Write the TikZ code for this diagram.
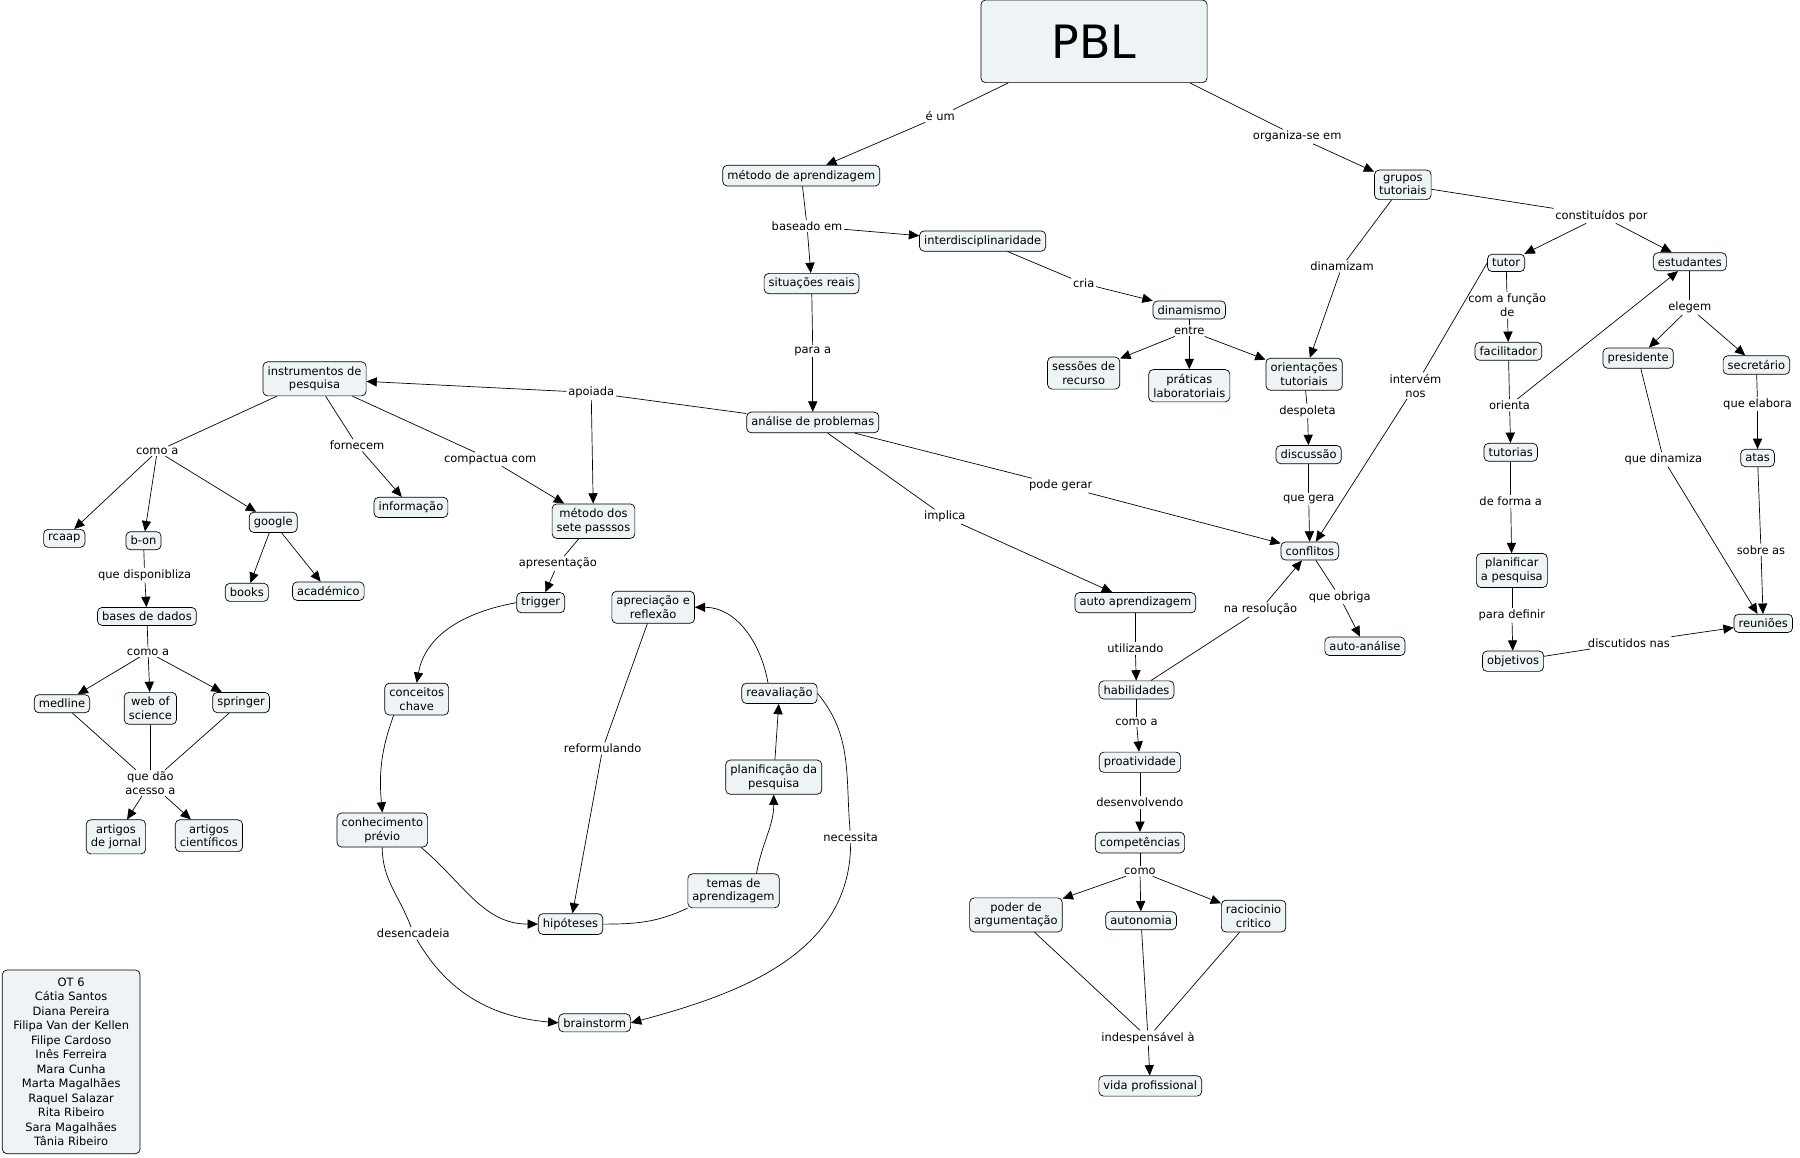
\documentclass[tikz,border=0pt]{standalone}
\usepackage{fontspec}
\setmainfont{DejaVu Sans}
\usetikzlibrary{arrows.meta}
\definecolor{cfill}{HTML}{EEF4F6}
\begin{document}
\begin{tikzpicture}[x=1pt,y=-1pt,
  c/.style={draw=black,fill=cfill,rounded corners=4pt,inner sep=4pt,align=center,font=\fontsize{10}{12}\selectfont,line width=0.6pt},
  l/.style={fill=white,inner sep=1.2pt,align=center,font=\fontsize{10}{12}\selectfont},
  arr/.style={-{Triangle[length=9pt,width=8pt]}},
  every path/.style={line width=0.6pt}]
\useasboundingbox (0,0) rectangle (1568,1008);
% concepts
\node[c,minimum width=197pt,minimum height=72pt,font=\fontsize{40}{44}\selectfont] (pbl) at (953,36) {PBL};
\node[c] (metodo) at (698,153) {método de aprendizagem};
\node[c] (interd) at (856,210) {interdisciplinaridade};
\node[c] (sit) at (707,247) {situações reais};
\node[c] (din) at (1036,270) {dinamismo};
\node[c] (sess) at (944,325) {sessões de\\recurso};
\node[c] (prat) at (1036,336) {práticas\\laboratoriais};
\node[c] (orient) at (1136,326) {orientações\\tutoriais};
\node[c] (grupos) at (1222,161) {grupos\\tutoriais};
\node[c] (tutor) at (1312,229) {tutor};
\node[c] (estud) at (1472,228) {estudantes};
\node[c] (facil) at (1314,306) {facilitador};
\node[c] (presid) at (1427,312) {presidente};
\node[c] (secret) at (1530,318) {secretário};
\node[c] (atas) at (1531,399) {atas};
\node[c] (tutorias) at (1316,394) {tutorias};
\node[c] (planif) at (1317,497) {planificar\\a pesquisa};
\node[c] (obj) at (1318,576) {objetivos};
\node[c] (reun) at (1536,543) {reuniões};
\node[c] (disc) at (1140,396) {discussão};
\node[c] (confl) at (1141,480) {conflitos};
\node[c] (autoan) at (1189,563) {auto-análise};
\node[c] (analise) at (708,368) {análise de problemas};
\node[c] (instr) at (274,330) {instrumentos de\\pesquisa};
\node[c] (info) at (358,442) {informação};
\node[c] (sete) at (517,454) {método dos\\sete passsos};
\node[c] (rcaap) at (56,469) {rcaap};
\node[c] (bon) at (125,471) {b-on};
\node[c] (google) at (238,455) {google};
\node[c] (books) at (215,516) {books};
\node[c] (acad) at (286,515) {académico};
\node[c] (bases) at (128,537) {bases de dados};
\node[c] (medline) at (54,613) {medline};
\node[c] (web) at (131,617) {web of\\science};
\node[c] (springer) at (210,612) {springer};
\node[c] (artj) at (101,729) {artigos\\de jornal};
\node[c] (artc) at (182,728) {artigos\\científicos};
\node[c] (trigger) at (471,525) {trigger};
\node[c] (aprec) at (569,529) {apreciação e\\reflexão};
\node[c] (reav) at (679,604) {reavaliação};
\node[c] (conc) at (363,609) {conceitos\\chave};
\node[c] (planp) at (674,677) {planificação da\\pesquisa};
\node[c] (conh) at (333,723) {conhecimento\\prévio};
\node[c] (temas) at (639,776) {temas de\\aprendizagem};
\node[c] (hip) at (497,805) {hipóteses};
\node[c] (brain) at (518,891) {brainstorm};
\node[c] (autoap) at (989,525) {auto aprendizagem};
\node[c] (habil) at (990,601) {habilidades};
\node[c] (proat) at (993,664) {proatividade};
\node[c] (comp) at (993,734) {competências};
\node[c] (poder) at (885,797) {poder de\\argumentação};
\node[c] (auton) at (994,802) {autonomia};
\node[c] (racio) at (1092,798) {raciocinio\\critico};
\node[c] (vida) at (1002,946) {vida profissional};
\node[c,minimum width=120pt,minimum height=160pt,inner sep=2pt,font=\fontsize{10}{12.6}\selectfont] (ot) at (62,925) {OT 6\\Cátia Santos\\Diana Pereira\\Filipa Van der Kellen\\Filipe Cardoso\\Inês Ferreira\\Mara Cunha\\Marta Magalhães\\Raquel Salazar\\Rita Ribeiro\\Sara Magalhães\\Tânia Ribeiro};
% linking phrases
\node[l] (eum) at (819,101) {é um};
\node[l] (org) at (1130,119) {organiza-se em};
\node[l] (bas) at (703,197) {baseado em};
\node[l] (cria) at (944,247) {cria};
\node[l] (entre) at (1036,288) {entre};
\node[l] (dinz) at (1169,232) {dinamizam};
\node[l] (const) at (1395,188) {constituídos por};
\node[l] (comf) at (1313,266) {com a função\\de};
\node[l] (eleg) at (1472,268) {elegem};
\node[l] (interv) at (1233,336) {intervém\\nos};
\node[l] (orienta) at (1315,353) {orienta};
\node[l] (elab) at (1531,352) {que elabora};
\node[l] (desp) at (1139,358) {despoleta};
\node[l] (qdin) at (1449,400) {que dinamiza};
\node[l] (qgera) at (1140,435) {que gera};
\node[l] (forma) at (1316,437) {de forma a};
\node[l] (sobre) at (1534,479) {sobre as};
\node[l] (pdef) at (1317,536) {para definir};
\node[l] (discn) at (1419,560) {discutidos nas};
\node[l] (obriga) at (1167,520) {que obriga};
\node[l] (resol) at (1098,531) {na resolução};
\node[l] (pger) at (924,423) {pode gerar};
\node[l] (impl) at (823,450) {implica};
\node[l] (paraa) at (708,306) {para a};
\node[l] (apoi) at (515,342) {apoiada};
\node[l] (comoa1) at (137,393) {como a};
\node[l] (forn) at (311,388) {fornecem};
\node[l] (compc) at (427,400) {compactua com};
\node[l] (disp) at (126,501) {que disponibliza};
\node[l] (comoa2) at (129,568) {como a};
\node[l] (qdao) at (131,682) {que dão\\acesso a};
\node[l] (apres) at (486,491) {apresentação};
\node[l] (reform) at (525,652) {reformulando};
\node[l] (neces) at (741,729) {necessita};
\node[l] (desenc) at (360,813) {desencadeia};
\node[l] (util) at (989,565) {utilizando};
\node[l] (comoa3) at (990,629) {como a};
\node[l] (desenv) at (993,699) {desenvolvendo};
\node[l] (como) at (993,759) {como};
\node[l] (indesp) at (1000,904) {indespensável à};
% connectors
\draw (pbl.south west)++(24,0) -- (eum); \draw[arr] (eum) -- (metodo);
\draw (pbl.south east)++(-15,0) -- (org); \draw[arr] (org) -- (grupos);
\draw (metodo) -- (bas); \draw[arr] (bas) -- (sit); \draw[arr] (bas) -- (interd);
\draw (interd) -- (cria); \draw[arr] (cria) -- (din);
\draw (din) -- (entre); \draw[arr] (entre) -- (sess); \draw[arr] (entre) -- (prat); \draw[arr] (entre) -- (orient);
\draw (grupos) -- (dinz); \draw[arr] (dinz) -- (orient);
\draw (grupos) -- (const); \draw[arr] (const) -- (tutor); \draw[arr] (const) -- (estud);
\draw (tutor) -- (comf); \draw[arr] (comf) -- (facil);
\draw (tutor.west) -- (interv); \draw[arr] (interv) -- (confl);
\draw (estud) -- (eleg); \draw[arr] (eleg) -- (presid); \draw[arr] (eleg) -- (secret);
\draw (facil) -- (orienta); \draw[arr] (orienta) -- (tutorias); \draw[arr] (orienta) -- (estud);
\draw (secret) -- (elab); \draw[arr] (elab) -- (atas);
\draw (atas) -- (sobre); \draw[arr] (sobre) -- (reun);
\draw (presid) -- (qdin); \draw[arr] (qdin) -- (reun);
\draw (tutorias) -- (forma); \draw[arr] (forma) -- (planif);
\draw (planif) -- (pdef); \draw[arr] (pdef) -- (obj);
\draw (obj) -- (discn); \draw[arr] (discn) -- (reun);
\draw (orient) -- (desp); \draw[arr] (desp) -- (disc);
\draw (disc) -- (qgera); \draw[arr] (qgera) -- (confl);
\draw (confl) -- (obriga); \draw[arr] (obriga) -- (autoan);
\draw (sit) -- (paraa); \draw[arr] (paraa) -- (analise);
\draw (analise) -- (pger); \draw[arr] (pger) -- (confl);
\draw (analise) -- (impl); \draw[arr] (impl) -- (autoap);
\draw (analise) -- (apoi); \draw[arr] (apoi) -- (instr); \draw[arr] (apoi) -- (sete);
\draw (autoap) -- (util); \draw[arr] (util) -- (habil);
\draw (habil) -- (resol); \draw[arr] (resol) -- (confl);
\draw (habil) -- (comoa3); \draw[arr] (comoa3) -- (proat);
\draw (proat) -- (desenv); \draw[arr] (desenv) -- (comp);
\draw (comp) -- (como); \draw[arr] (como) -- (poder); \draw[arr] (como) -- (auton); \draw[arr] (como) -- (racio);
\draw (poder) -- (indesp); \draw (auton) -- (indesp); \draw (racio) -- (indesp); \draw[arr] (indesp) -- (vida);
\draw (instr) -- (comoa1); \draw[arr] (comoa1) -- (rcaap); \draw[arr] (comoa1) -- (bon); \draw[arr] (comoa1) -- (google);
\draw (instr) -- (forn); \draw[arr] (forn) -- (info);
\draw (instr) -- (compc); \draw[arr] (compc) -- (sete);
\draw (bon) -- (disp); \draw[arr] (disp) -- (bases);
\draw[arr] (google) -- (books); \draw[arr] (google) -- (acad);
\draw (bases) -- (comoa2); \draw[arr] (comoa2) -- (medline); \draw[arr] (comoa2) -- (web); \draw[arr] (comoa2) -- (springer);
\draw (medline) -- (qdao); \draw (web) -- (qdao); \draw (springer) -- (qdao);
\draw[arr] (qdao) -- (artj); \draw[arr] (qdao) -- (artc);
\draw (sete) -- (apres); \draw[arr] (apres) -- (trigger);
\draw[arr] (trigger.west) to[out=190,in=80] (conc.north);
\draw[arr] (conc.south west)++(8,0) to[out=250,in=95] (conh.north);
\draw[arr] (conh.south east)++(-6,0) to[out=-40,in=180] (hip.west);
\draw (hip.east) to[out=0,in=205] (temas.south west);
\draw[arr] (temas.north)++(20,0) to[out=80,in=-90] (planp.south);
\draw[arr] (planp) -- (reav);
\draw[arr] (reav.north)++(-10,0) to[out=100,in=0] (aprec.east);
\draw (aprec) -- (reform); \draw[arr] (reform) -- (hip);
\draw (reav.east) to[out=-50,in=95] (neces); \draw[arr] (neces) to[out=-90,in=15] (brain.east);
\draw (conh.south) to[out=-90,in=110] (desenc); \draw[arr] (desenc) to[out=-60,in=175] (brain.west);
\end{tikzpicture}
\end{document}
